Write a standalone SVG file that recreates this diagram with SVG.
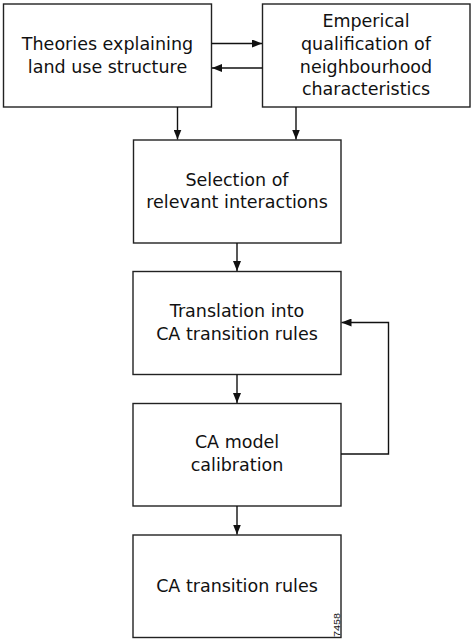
<svg xmlns="http://www.w3.org/2000/svg" width="474" height="641" viewBox="0 0 474 641">
<defs>
<marker id="ah" markerWidth="10" markerHeight="8" refX="10" refY="4" orient="auto" markerUnits="userSpaceOnUse">
<path d="M0,0 L10,4 L0,8 Z" fill="#111"/>
</marker>
<style>
.box{fill:#fff;stroke:#222;stroke-width:1.4}
.t{font-family:"DejaVu Sans","Open Sans",sans-serif;font-size:17.5px;fill:#111;text-anchor:middle}
.c{fill:none;stroke:#111;stroke-width:1.4;marker-end:url(#ah)}
</style>
</defs>
<rect width="474" height="641" fill="#fff"/>
<g id="n1"><rect class="box" x="3.5" y="4" width="208" height="103"/>
<text class="t" x="107.5" y="50">Theories explaining</text>
<text class="t" x="107.5" y="73">land use structure</text></g>
<g id="n2"><rect class="box" x="262.5" y="4" width="207.5" height="103"/>
<text class="t" x="366" y="27">Emperical</text>
<text class="t" x="366" y="50">qualification of</text>
<text class="t" x="366" y="73">neighbourhood</text>
<text class="t" x="366" y="95">characteristics</text></g>
<g id="n3"><rect class="box" x="133.5" y="140" width="207.5" height="103"/>
<text class="t" x="237" y="186">Selection of</text>
<text class="t" x="237" y="208">relevant interactions</text></g>
<g id="n4"><rect class="box" x="133" y="271.5" width="208" height="103"/>
<text class="t" x="237" y="317">Translation into</text>
<text class="t" x="237" y="339.5">CA transition rules</text></g>
<g id="n5"><rect class="box" x="133" y="403.5" width="208" height="102.5"/>
<text class="t" x="237" y="448">CA model</text>
<text class="t" x="237" y="470.5">calibration</text></g>
<g id="n6"><rect class="box" x="133" y="535" width="208" height="102.5"/>
<text class="t" x="237" y="592">CA transition rules</text>
<text x="0" y="0" transform="translate(339.5,637) rotate(-90)" textLength="24" lengthAdjust="spacingAndGlyphs" style="font-family:'Liberation Sans',sans-serif;font-size:9px;fill:#111">7458</text></g>
<g id="connectors">
<path class="c" d="M211.5,43.5 H262"/>
<path class="c" d="M262.5,68 H212"/>
<path class="c" d="M177.5,107 V139.5"/>
<path class="c" d="M296,107 V139.5"/>
<path class="c" d="M237,243 V271"/>
<path class="c" d="M237,374.5 V403"/>
<path class="c" d="M237,506 V534.5"/>
<path class="c" d="M341,454 H388.5 V322.5 H341.5"/>
</g>
</svg>
